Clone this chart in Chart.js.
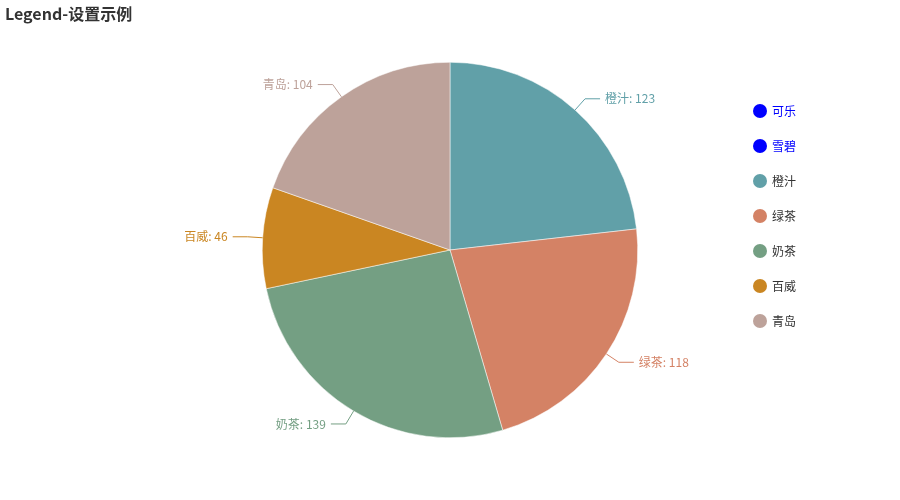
<!DOCTYPE html>
<html><head><meta charset="utf-8">
<script src="https://cdn.jsdelivr.net/npm/chart.js@4/dist/chart.umd.min.js"></script>
<style>body{margin:0;background:#fff}#w{width:900px;height:500px}</style>
</head><body><div id="w"><canvas id="c"></canvas></div>
<script>
const categories=['可乐','雪碧','橙汁','绿茶','奶茶','百威','青岛'];
const values=[0,0,123,118,139,46,104];
const colors=['#0000ff','#0000ff','#61a0a8','#d48265','#749f83','#ca8622','#bda29a'];
const FONT='"Noto Sans CJK SC","Noto Sans",sans-serif';
const deco={id:'deco',afterDraw(ch){
  const c=ch.ctx;c.save();
  c.font='bold 16px '+FONT;c.fillStyle='#333';c.textBaseline='middle';c.textAlign='left';
  c.fillText('Legend-设置示例',5,14);
  const meta=ch.getDatasetMeta(0);
  c.font='12px '+FONT;
  meta.data.forEach((a,i)=>{
    if(!values[i])return;
    const p=a.getProps(['x','y','startAngle','endAngle','outerRadius'],true);
    const m=(p.startAngle+p.endAngle)/2,r=p.outerRadius;
    const x1=p.x+Math.cos(m)*r,y1=p.y+Math.sin(m)*r;
    const x2=p.x+Math.cos(m)*(r+15),y2=p.y+Math.sin(m)*(r+15);
    const right=Math.cos(m)>=0,x3=x2+(right?15:-15);
    c.strokeStyle=colors[i];c.lineWidth=1;c.beginPath();c.moveTo(x1,y1);c.lineTo(x2,y2);c.lineTo(x3,y2);c.stroke();
    c.fillStyle=colors[i];c.textAlign=right?'left':'right';
    c.fillText(categories[i]+': '+values[i],x3+(right?5:-5),y2);
  });
  categories.forEach((n,i)=>{
    const y=111+i*35;
    c.fillStyle=colors[i];c.beginPath();c.arc(760,y,7,0,Math.PI*2);c.fill();
    c.fillStyle=i<2?'#0000ff':'#333';c.textAlign='left';c.fillText(n,772,y);
  });
  c.restore();
}};
new Chart(document.getElementById('c'),{type:'pie',
data:{labels:categories,datasets:[{data:values,backgroundColor:colors,borderColor:'#fff',borderWidth:0.5}]},
options:{responsive:true,maintainAspectRatio:false,animation:false,
layout:{padding:{top:62,bottom:62,left:0,right:0}},
plugins:{legend:{display:false},tooltip:{enabled:false}}},
plugins:[deco]});
</script></body></html>
